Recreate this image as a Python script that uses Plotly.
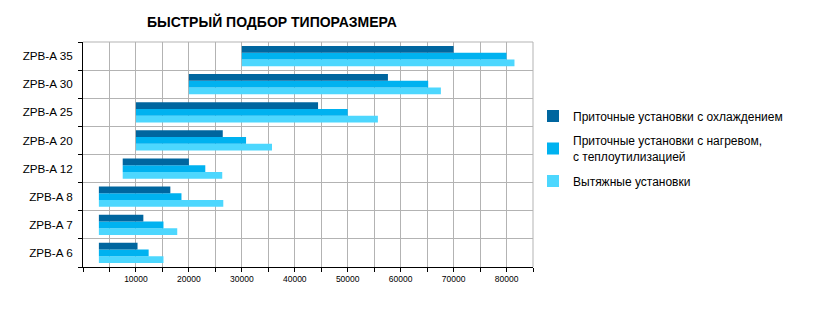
import plotly.graph_objects as go

categories = ["ZPB-A 6", "ZPB-A 7", "ZPB-A 8", "ZPB-A 12", "ZPB-A 20", "ZPB-A 25", "ZPB-A 30", "ZPB-A 35"]
start = [3000, 3000, 3000, 7500, 10000, 10000, 20000, 30000]
end_cooling = [10300, 11400, 16500, 20000, 26400, 44400, 57600, 70000]
end_heating = [12400, 15200, 18600, 23100, 30800, 50000, 65200, 80000]
end_exhaust = [15200, 17800, 26500, 26300, 35700, 55700, 67600, 81500]

names = ["Приточные установки с охлаждением",
         "Приточные установки с нагревом,<br>с теплоутилизацией",
         "Вытяжные установки"]
colors = ["#00669f", "#00b2f0", "#4dd7fe"]
ends = [end_cooling, end_heating, end_exhaust]

fig = go.Figure()
# plotly places first trace at bottom of each group; add in reverse order
for i in [2, 1, 0]:
    fig.add_trace(go.Bar(
        y=categories,
        x=[e - s for e, s in zip(ends[i], start)],
        base=start,
        orientation="h",
        name=names[i],
        marker=dict(color=colors[i], line=dict(width=0)),
        legendgroup=str(i),
        legendrank=i + 1,
    ))

tickvals = list(range(0, 85001, 5000))
ticktext = [str(v) if (v % 10000 == 0 and v > 0) else "" for v in tickvals]

fig.update_layout(
    width=819, height=313,
    margin=dict(l=83, r=286, t=42, b=46),
    paper_bgcolor="white", plot_bgcolor="white",
    barmode="group", bargap=0.28, bargroupgap=0,
    font=dict(family="Liberation Sans, Arial, sans-serif", color="black"),
    title=dict(text="<b>БЫСТРЫЙ ПОДБОР ТИПОРАЗМЕРА</b>", x=0.332, xanchor="center",
               y=1 - 22 / 313, yanchor="middle", font=dict(size=14, color="black")),
    xaxis=dict(range=[0, 85000], tickvals=tickvals, ticktext=ticktext,
               showgrid=True, gridcolor="#b3b3b3", gridwidth=1,
               ticks="outside", ticklen=4, tickcolor="#000000",
               showline=True, linecolor="black", linewidth=1,
               tickfont=dict(size=8.5), zeroline=False, fixedrange=True),
    yaxis=dict(type="category", categoryorder="array", categoryarray=categories,
               tickson="boundaries", showgrid=True, gridcolor="#b3b3b3", gridwidth=1,
               ticks="outside", ticklen=4, tickcolor="black",
               showline=True, linecolor="black", linewidth=1,
               ticklabelstandoff=7,
               tickfont=dict(size=11.7), zeroline=False),
    legend=dict(x=1.0, xanchor="left", y=0.525, yanchor="middle",
                font=dict(size=12), tracegroupgap=6, traceorder="grouped",
                bgcolor="rgba(0,0,0,0)"),
    showlegend=True,
)
fig.add_shape(type="line", xref="paper", yref="paper", x0=0, x1=1, y0=1, y1=1,
              line=dict(color="#b3b3b3", width=1))
fig.add_shape(type="line", xref="paper", yref="paper", x0=1, x1=1, y0=0, y1=1,
              line=dict(color="#b3b3b3", width=1))

fig.write_html("out.html")
